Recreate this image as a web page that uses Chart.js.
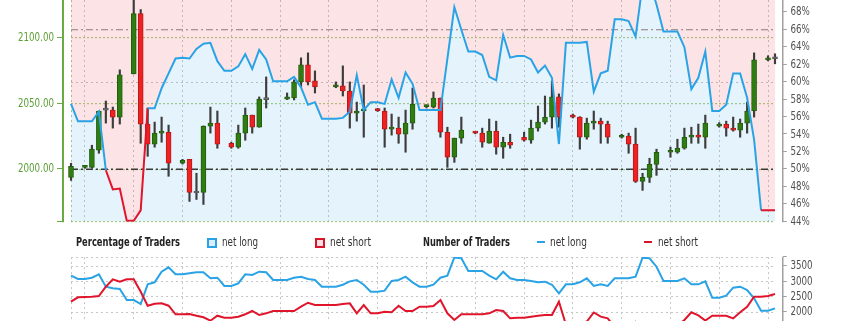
<!DOCTYPE html>
<html><head><meta charset="utf-8">
<script src="https://cdn.jsdelivr.net/npm/chart.js@4.4.1/dist/chart.umd.min.js"></script>
<style>
html,body{margin:0;padding:0;width:845px;height:321px;overflow:hidden;background:#fff;position:relative;}
#main{position:absolute;left:0;top:-40px;}
#sub{position:absolute;left:0;top:247px;}
.lg{position:absolute;top:235px;font-family:Roboto,sans-serif;font-size:12px;color:#333;line-height:14px;white-space:nowrap;transform-origin:0 50%;}
.b{font-weight:bold;color:#222;}
.box{position:absolute;top:238px;width:6px;height:6px;border:2px solid;}
.dash{position:absolute;top:241px;height:2px;width:8px;}
</style></head>
<body>
<canvas id="main" width="845" height="272"></canvas>
<canvas id="sub" width="845" height="110"></canvas>
<div class="lg b" data-w="104" style="left:76px">Percentage of Traders</div>
<div class="box" style="left:207px;border-color:#2aa3e6;background:#dcedfb"></div>
<div class="lg" data-w="36" style="left:222px">net long</div>
<div class="box" style="left:315px;border-color:#d9142a;background:#fbe0e3"></div>
<div class="lg" data-w="41" style="left:330px">net short</div>
<div class="lg b" data-w="87" style="left:423px">Number of Traders</div>
<div class="dash" style="left:537px;background:#2aa3e6"></div>
<div class="lg" data-w="37" style="left:550px">net long</div>
<div class="dash" style="left:644px;background:#d9142a"></div>
<div class="lg" data-w="40" style="left:658px">net short</div>
<script>
// ---------- data ----------
const open = [1993.9,null,2001.5,2001.5,2014.5,2045,2045,2039.7,null,2072.5,2118.3,2034.4,2019.1,2027.5,2028.2,null,2004.6,2007.6,1982.4,1982.4,2032.8,2035.1,null,2019.8,2016.8,2027.5,2041.2,2032,2053.4,null,null,2053.4,2054.2,2066.4,2079.4,2067.2,null,null,2062.6,2063.4,2059.5,2042.7,2044.3,null,2045.3,2044.3,2030.5,2031.3,2026.7,2035.1,null,2047.6,2047.3,2054.2,2028.2,2009.2,2023.7,null,2028.2,2027.5,2019.8,2029,2016.8,2020.6,null,2024.4,2022.1,2031.3,2035.9,2039.7,2055,null,2040.5,2039.7,2024.4,2035.1,2036.6,2034.4,null,2024.4,2025.2,2019.1,1990.8,1993.9,2003.8,null,2013,2013,2016,2024.4,2026,2024.4,null,2032.8,2034.4,2031.3,2029.8,2035.1,2044.3,null,2083.2,2084];
const high = [2004.6,null,2003,2018.3,2044.3,2051.9,2047.3,2075.6,null,2140,2121.4,2046.6,2035.9,2039.7,2033.6,null,2007.6,2007.6,1997,2033,2047.3,2044.3,null,2020.6,2033.6,2046.6,2041.2,2055,2070.2,null,null,2058,2068,2084.7,2088.5,2074.8,null,null,2066.4,2078.6,2066.4,2051.1,2064.1,null,2046.3,2046.6,2042,2039.7,2045,2061.8,null,2049,2058.8,2054.2,2032,2023.7,2039.7,null,2028.5,2031.3,2038.2,2036.6,2024.4,2026.7,null,2028.2,2037.4,2048.1,2055.7,2067.2,2057.3,null,2042,2040,2038.9,2044.3,2038.9,2036.6,null,2026.7,2027.5,2031.3,1997,2008.4,2015.3,null,2016.8,2022.9,2031.3,2032,2034.4,2041.2,null,2035.5,2036.6,2039.7,2038.2,2051.1,2088.5,null,2086.3,2087.8];
const low = [1991.6,null,2000.8,2000.8,2012.2,2035.1,2031.3,2034.4,null,2072.5,2019.8,2009.9,2016.8,2020.6,1994.7,null,2004,1975.6,1977.1,1973.3,2027.5,2016,null,2016,2016,2022.1,2027.5,2032,2046.6,null,null,2053,2052.7,2062.6,2064.1,2058,null,null,2062,2055.7,2031.3,2036.6,2024.4,null,2044,2016.8,2026,2019.8,2013,2030.5,null,2046.6,2046.6,2024.4,2001.5,2005.3,2019.8,null,2027,2016.8,2019.8,2011.5,2008.4,2016,null,2021.4,2019.8,2029,2034.4,2031.3,2032,null,2039,2015.3,2022.9,2030.5,2019.8,2019.8,null,2023.7,2012.2,1990,1984,1990,1995.4,null,2009.2,2012.2,2015.3,2019.8,2019.8,2016,null,2032,2025.2,2029,2024.4,2027.5,2039.7,null,2082.4,2080.2];
const close = [2002.3,null,2002.3,2015.3,2044.3,2045.3,2039.7,2071.8,null,2118.3,2034.4,2019.1,2027.5,2028.2,2004.6,null,2006.9,1982.4,1982.0,2032.8,2035.1,2019.1,null,2016.8,2027.5,2041.2,2032,2053.4,2053,null,null,2055,2066.4,2079.4,2066.4,2062.6,null,null,2063.4,2059.5,2042.7,2044.3,2045.8,null,2044.6,2030.5,2031.3,2026.7,2035.1,2049.6,null,2048.2,2054.2,2028.2,2009.2,2023.7,2029.8,null,2027.5,2020.6,2029,2016.8,2020.6,2018.3,null,2022.1,2031.3,2035.9,2039.7,2055,2039.7,null,2039.7,2024.4,2035.1,2036.6,2034.4,2024.4,null,2025.2,2019.1,1990.8,1993.9,2003.8,2013,null,2013.7,2016,2024.4,2026,2024.4,2035.1,null,2034.4,2031.3,2029.8,2035.1,2044.3,2083.2,null,2084,2084];
const netLongPct = [57.5,55.5,55.5,55.5,56.6,49.9,47.7,47.8,44.1,44.1,45.3,57.0,57.0,59.3,61.0,62.7,62.8,62.7,63.8,64.4,64.5,62.4,61.3,61.3,61.8,63.2,61.5,63.7,62.6,60.1,60.1,60.1,60.6,59.4,57.4,57.7,55.8,55.8,55.8,55.9,56.6,60.8,56.8,57.7,57.7,57.5,60.3,58.2,61.1,59.8,56.8,56.8,56.8,56.8,62.7,68.6,66.0,63.5,63.5,63.1,60.6,60.2,65.4,62.8,63.0,63.0,62.6,61.1,61.9,60.5,52.9,64.5,64.5,64.5,64.6,58.9,61.0,61.3,67.2,67.2,67.0,65.2,71.2,71.5,68.9,65.8,65.8,65.8,64.0,59.2,60.5,63.5,56.7,56.7,57.4,61.0,61.0,58.2,53.4,45.3,45.3,45.3];
const netLongCount = [3194,3086,3086,3128,3239,2835,2782,2760,2401,2401,2271,2913,2978,3324,3467,3239,3239,3272,3304,3304,3109,3128,2858,2858,2945,3239,3216,3324,3304,3053,3053,3053,3128,3161,3086,3053,2835,2835,2835,2900,3009,3053,2900,2672,2672,2705,3020,3053,3161,2978,2835,2835,2900,3128,3194,3790,3761,3347,3347,3347,3194,3076,3324,3109,3053,3053,3020,2978,2998,2900,2620,2913,2913,2978,3109,2858,2913,2858,3109,3109,3109,3161,3780,3761,3487,3020,3020,3020,3109,2913,2913,3009,2476,2476,2541,2802,2835,2727,2457,2053,2053,2130];
const netShortCount = [2346,2489,2500,2510,2532,2835,3076,2998,3076,3076,2672,2216,2281,2292,2216,1935,1935,1946,1890,1837,1727,1890,1825,1825,1857,1935,2043,1912,1967,2043,2043,2043,2043,2183,2313,2238,2238,2238,2238,2270,2292,1967,2238,1967,1967,2021,2000,2216,2043,2043,2183,2183,2205,2401,1967,1750,1935,1935,1935,1935,1967,2075,2043,1804,1825,1825,1857,1890,1912,1912,2346,1600,1600,1640,1700,1995,1860,1805,1520,1520,1530,1690,1530,1500,1575,1570,1570,1570,1750,2000,1900,1730,1890,1890,1886,1800,2000,2183,2510,2510,2532,2597];
const priceTicks = [2000, 2050, 2100];
const pctTicks = [44,46,48,50,52,54,56,58,60,62,64,66,68];
const countTicks = [2000, 2500, 3000, 3500];
const NEUTRAL_LEVEL = 50;
const UPPER_LEVEL = 66;
const labels = open.map((_, i) => 'D' + (i + 1));

// ---------- fonts: prefer a narrow face, else condense horizontally ----------
const probe = document.createElement('canvas').getContext('2d');
function textW(font, s) { probe.font = font; return probe.measureText(s).width; }
function hasFamily(fam) {
  const s = 'mmmwiil 2100.00%';
  return Math.abs(textW('12px ' + fam + ', monospace', s) - textW('12px monospace', s)) > 0.5;
}
let FAM = 'Roboto', STRETCH = '';
if (hasFamily('"Liberation Sans Narrow"')) FAM = '"Liberation Sans Narrow"';
else if (textW('condensed 12px "Noto Sans"', '2100.00') < textW('12px "Noto Sans"', '2100.00') - 1) { FAM = '"Noto Sans"'; STRETCH = 'condensed'; }
else if (hasFamily('"DejaVu Sans Condensed"')) FAM = '"DejaVu Sans Condensed"';
const WEIGHT = STRETCH ? '500 ' + STRETCH : '500';
const FONT_STR = WEIGHT + ' 12px ' + FAM;
const K = Math.min(1, 36 / textW(FONT_STR, '2100.00'));

document.querySelectorAll('.lg').forEach(el => {
  el.style.fontFamily = FAM;
  if (STRETCH) el.style.fontStretch = STRETCH;
  const w = el.getBoundingClientRect().width;
  const target = +el.dataset.w;
  if (w > 0) el.style.transform = 'scaleX(' + (target / w) + ')';
});

const condensePlugin = {
  id: 'condense',
  beforeInit(chart) {
    const ctx = chart.ctx;
    const orig = ctx.fillText.bind(ctx);
    ctx.fillText = function (text, x, y, maxW) {
      if (K >= 0.999) return maxW === undefined ? orig(text, x, y) : orig(text, x, y, maxW);
      this.save(); this.translate(x, y); this.scale(K, 1);
      if (maxW === undefined) orig(text, 0, 0); else orig(text, 0, 0, maxW);
      this.restore();
    };
  }
};

// ---------- styling / layout ----------
const BLUE = '#2aa3e6', RED = '#e0142a';
const TICK_FONT = { family: FAM, size: 12, weight: WEIGHT };
const PRICE_MIN = 1960.2, PRICE_MAX = 1960.2 + 261.7 / 1.316;
const PCT_MIN = 44, PCT_MAX = 44 + 261.7 / 8.725;
const isWeekGrid = i => i >= 2 && (i - 2) % 7 === 0;

function makeAxisPlugin(axes) {
  return {
    id: 'axisLines',
    afterDraw(chart) {
      const ctx = chart.ctx, a = chart.chartArea;
      ctx.save();
      for (const ax of axes) {
        const s = chart.scales[ax.scale];
        ctx.strokeStyle = ax.color;
        ctx.lineWidth = ax.width;
        ctx.beginPath();
        ctx.moveTo(ax.x, a.top);
        ctx.lineTo(ax.x, a.bottom + 0.5);
        ctx.stroke();
        ctx.lineWidth = 1;
        ctx.beginPath();
        for (const t of s.ticks) {
          const y = Math.round(s.getPixelForValue(t.value)) - 0.5;
          ctx.moveTo(ax.x, y);
          ctx.lineTo(ax.x + ax.tick, y);
        }
        ctx.stroke();
      }
      ctx.restore();
    }
  };
}

function bodyFill(i) {
  const d = close[i] - open[i];
  if (Math.abs(d) < 0.5) return '#7a7a7a';
  return d > 0 ? '#2f7d12' : '#ee2222';
}
function bodyBorder(i) {
  const d = close[i] - open[i];
  if (Math.abs(d) < 0.5) return '#555';
  return d > 0 ? '#245e0d' : '#b81818';
}

const xScale = (firstColor) => ({
  type: 'category', offset: false, display: true,
  grid: { offset: false, drawTicks: false, lineWidth: 1,
    color: c => c.index === 0 ? firstColor : (isWeekGrid(c.index) ? '#c6c6c6' : 'rgba(0,0,0,0)') },
  border: { display: false, dash: [2, 3] },
  ticks: { display: false, autoSkip: false },
  afterFit: s => { s.height = 0; s.paddingLeft = 0; s.paddingRight = 0; }
});

new Chart(document.getElementById('main'), {
  type: 'bar',
  data: {
    labels,
    datasets: [
      { type: 'line', data: netLongPct, yAxisID: 'yp', fill: 'end', backgroundColor: 'rgba(230,30,47,0.12)', borderWidth: 0, pointRadius: 0, order: 30 },
      { type: 'line', data: netLongPct, yAxisID: 'yp', fill: 'start', backgroundColor: 'rgba(38,155,230,0.12)', borderWidth: 0, pointRadius: 0, order: 29 },
      { type: 'line', data: labels.map(() => NEUTRAL_LEVEL), yAxisID: 'yp', borderColor: '#3a3a3a', borderWidth: 1.5, borderDash: [7, 3, 2, 3], pointRadius: 0, fill: false, order: 20 },
      { type: 'line', data: labels.map(() => UPPER_LEVEL), yAxisID: 'yp', borderColor: '#8a7b7b', borderWidth: 1.2, borderDash: [7, 3, 2, 3], pointRadius: 0, fill: false, order: 20 },
      { type: 'bar', data: low.map((l, i) => l == null ? null : [l, high[i]]), yAxisID: 'yl', barThickness: 1.5, grouped: false, backgroundColor: '#3d3d3d', order: 10, clip: false },
      { type: 'bar', data: open.map((o, i) => o == null ? null : [o, close[i]]), yAxisID: 'yl', barThickness: 5, grouped: false, minBarLength: 2, borderWidth: 1, borderSkipped: false,
        backgroundColor: c => bodyFill(c.dataIndex), borderColor: c => bodyBorder(c.dataIndex), order: 9, clip: false },
      { type: 'line', data: netLongPct, yAxisID: 'yp', borderWidth: 2, pointRadius: 0, fill: false, order: 1, borderColor: BLUE,
        segment: { borderColor: c => c.p0.parsed.y < 50 ? RED : BLUE } }
    ]
  },
  options: {
    responsive: false, animation: false, devicePixelRatio: 1,
    layout: { padding: { left: 0, right: 0, top: 0, bottom: 10.3 } },
    plugins: { legend: { display: false }, tooltip: { enabled: false } },
    scales: {
      x: xScale('rgba(150,192,100,0.8)'),
      yl: {
        position: 'left', min: PRICE_MIN, max: PRICE_MAX,
        afterBuildTicks: s => { s.ticks = [PRICE_MIN, ...priceTicks].map(v => ({ value: v })); },
        ticks: { padding: 17, color: '#5d9f35', font: TICK_FONT, autoSkip: false, callback: v => v === PRICE_MIN ? '' : Number(v).toFixed(2) },
        grid: { drawTicks: false, lineWidth: 1.2, color: 'rgba(150,192,100,0.8)' },
        border: { display: false, dash: [2, 2] },
        afterFit: s => { s.width = 71; s.paddingTop = 0; s.paddingBottom = 0; }
      },
      yp: {
        position: 'right', min: PCT_MIN, max: PCT_MAX,
        afterBuildTicks: s => { s.ticks = pctTicks.map(v => ({ value: v })); },
        ticks: { padding: 15.5, color: '#505050', font: TICK_FONT, autoSkip: false, callback: v => v + '%' },
        grid: { drawTicks: false, lineWidth: 1, color: c => (c.tick && c.tick.value % 10 === 0) ? '#c4c4c4' : 'rgba(0,0,0,0)' },
        border: { display: false, dash: [2, 3] },
        afterFit: s => { s.width = 70; s.paddingTop = 0; s.paddingBottom = 0; }
      }
    }
  },
  plugins: [condensePlugin, makeAxisPlugin([
    { scale: 'yl', x: 63, color: '#6aaa44', width: 2, tick: -6 },
    { scale: 'yp', x: 782.75, color: '#a0a0a0', width: 1.5, tick: 4 }
  ])]
});

new Chart(document.getElementById('sub'), {
  type: 'line',
  data: {
    labels,
    datasets: [
      { data: netLongCount, borderColor: BLUE, borderWidth: 2, pointRadius: 0, fill: false, yAxisID: 'yc', order: 2 },
      { data: netShortCount, borderColor: RED, borderWidth: 2, pointRadius: 0, fill: false, yAxisID: 'yc', order: 1 }
    ]
  },
  options: {
    responsive: false, animation: false, devicePixelRatio: 1,
    layout: { padding: { left: 71, right: 0, top: 10.1, bottom: 14 } },
    plugins: { legend: { display: false }, tooltip: { enabled: false } },
    scales: {
      x: xScale('#c6c6c6'),
      yc: {
        position: 'right', min: 1000, max: 3800,
        afterBuildTicks: s => { s.ticks = [1000, 1500, ...countTicks, 3800].map(v => ({ value: v })); },
        ticks: { padding: 15.5, color: '#505050', font: TICK_FONT, autoSkip: false, callback: v => v === 3800 ? '' : String(v) },
        grid: { drawTicks: false, lineWidth: 1, color: '#c6c6c6' },
        border: { display: false, dash: [2, 3] },
        afterFit: s => { s.width = 70; s.paddingTop = 0; s.paddingBottom = 0; }
      }
    }
  },
  plugins: [condensePlugin, makeAxisPlugin([
    { scale: 'yc', x: 782.75, color: '#a0a0a0', width: 1.5, tick: 4 }
  ])]
});
</script>
</body></html>
